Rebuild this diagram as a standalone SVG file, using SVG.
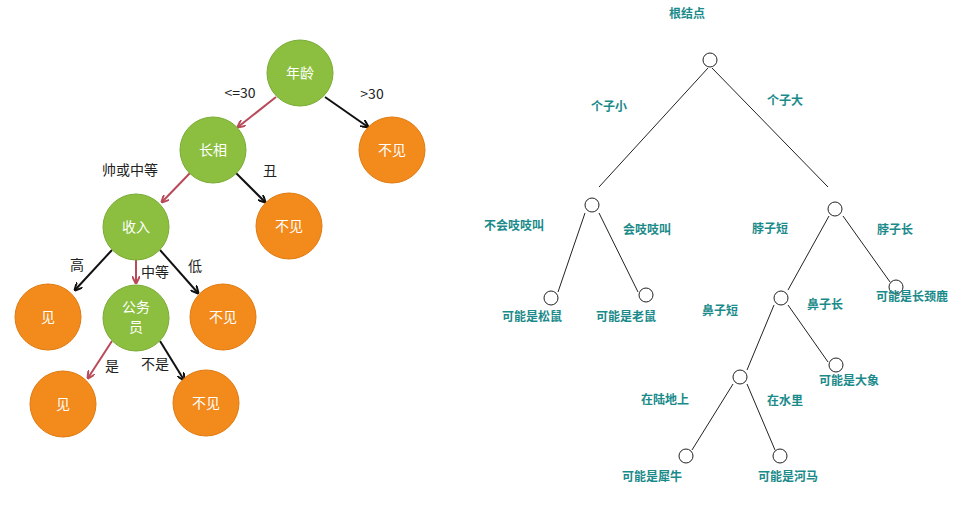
<svg xmlns="http://www.w3.org/2000/svg" width="966" height="508" viewBox="0 0 966 508">
<style>
.g{fill:#8cbf3f;stroke:#7aab35;stroke-width:1}
.o{fill:#f28a1c;stroke:#e07a10;stroke-width:1}
.nt{font-family:"Noto Sans CJK SC",sans-serif;font-size:14px;fill:#fff;text-anchor:middle}
.lb{font-family:"Noto Sans CJK SC",sans-serif;font-size:14px;fill:#222;text-anchor:middle}
.r{stroke:#b84a5a;stroke-width:2;marker-end:url(#ar)}
.k{stroke:#111;stroke-width:2;marker-end:url(#ak)}
.t{font-family:"Noto Sans CJK SC",sans-serif;font-size:12px;font-weight:bold;fill:#1a8a8a;text-anchor:middle}
.c{fill:#fff;stroke:#222;stroke-width:1}
.l{stroke:#222;stroke-width:1}
</style>
<defs>
<marker id="ar" markerWidth="8" markerHeight="8" refX="7" refY="4" orient="auto" markerUnits="userSpaceOnUse"><path d="M0,0 L8,4 L0,8" fill="none" stroke="#b84a5a" stroke-width="2"/></marker>
<marker id="ak" markerWidth="8" markerHeight="8" refX="7" refY="4" orient="auto" markerUnits="userSpaceOnUse"><path d="M0,0 L8,4 L0,8" fill="none" stroke="#111" stroke-width="2"/></marker>
</defs>
<rect width="966" height="508" fill="#fff"/>
<g id="connectors">
<line class="r" x1="276" y1="97" x2="238" y2="127"/>
<line class="k" x1="325" y1="97" x2="368" y2="127"/>
<line class="r" x1="190" y1="173" x2="162" y2="202"/>
<line class="k" x1="236" y1="173" x2="265" y2="202"/>
<line class="k" x1="112" y1="250" x2="75" y2="290"/>
<line class="r" x1="136" y1="259" x2="136" y2="283"/>
<line class="k" x1="160" y1="250" x2="198" y2="293"/>
<line class="r" x1="112" y1="341" x2="88" y2="378"/>
<line class="k" x1="160" y1="341" x2="184" y2="380"/>
<line class="l" x1="708" y1="68" x2="599" y2="187"/>
<line class="l" x1="712" y1="68" x2="828" y2="187"/>
<line class="l" x1="585" y1="213" x2="558" y2="292"/>
<line class="l" x1="599" y1="213" x2="638" y2="292"/>
<line class="l" x1="829" y1="216" x2="788" y2="290"/>
<line class="l" x1="843" y1="216" x2="890" y2="282"/>
<line class="l" x1="774" y1="305" x2="747" y2="370"/>
<line class="l" x1="788" y1="305" x2="828" y2="362"/>
<line class="l" x1="733" y1="384" x2="692" y2="450"/>
<line class="l" x1="747" y1="384" x2="775" y2="450"/>
</g>
<g class="lb">
<text x="240" y="98">&lt;=30</text><text x="372" y="99">&gt;30</text>
<text x="130" y="175">帅或中等</text><text x="270" y="176">丑</text>
<text x="77" y="270">高</text><text x="155" y="277">中等</text><text x="195" y="271">低</text>
<text x="112" y="371">是</text><text x="155" y="369">不是</text>
</g>
<g id="n1"><circle class="g" cx="300" cy="73" r="33"/><text class="nt" x="300" y="78">年龄</text></g>
<g id="n2"><circle class="g" cx="213" cy="150" r="33"/><text class="nt" x="213" y="155">长相</text></g>
<g id="n3"><circle class="o" cx="392" cy="150" r="33"/><text class="nt" x="392" y="155">不见</text></g>
<g id="n4"><circle class="g" cx="136" cy="227" r="33"/><text class="nt" x="136" y="232">收入</text></g>
<g id="n5"><circle class="o" cx="289" cy="226" r="33"/><text class="nt" x="289" y="231">不见</text></g>
<g id="n6"><circle class="o" cx="48" cy="317" r="33"/><text class="nt" x="48" y="322">见</text></g>
<g id="n7"><circle class="g" cx="136" cy="318" r="33"/><text class="nt" x="136" y="312">公务</text><text class="nt" x="136" y="332">员</text></g>
<g id="n8"><circle class="o" cx="223" cy="317" r="33"/><text class="nt" x="223" y="322">不见</text></g>
<g id="n9"><circle class="o" cx="63" cy="404" r="33"/><text class="nt" x="63" y="409">见</text></g>
<g id="n10"><circle class="o" cx="206" cy="403" r="33"/><text class="nt" x="206" y="408">不见</text></g>
<g id="r1"><circle class="c" cx="710" cy="60" r="7"/><text class="t" x="687" y="18">根结点</text></g>
<g id="r2"><circle class="c" cx="592" cy="205" r="7"/></g>
<g id="r3"><circle class="c" cx="835" cy="209" r="7"/></g>
<g id="r4"><circle class="c" cx="551" cy="298" r="7"/><text class="t" x="532" y="321">可能是松鼠</text></g>
<g id="r5"><circle class="c" cx="646" cy="295" r="7"/><text class="t" x="626" y="321">可能是老鼠</text></g>
<g id="r6"><circle class="c" cx="896" cy="287" r="7"/><text class="t" x="912" y="301">可能是长颈鹿</text></g>
<g id="r7"><circle class="c" cx="781" cy="298" r="7"/></g>
<g id="r8"><circle class="c" cx="836" cy="365" r="7"/><text class="t" x="849" y="385">可能是大象</text></g>
<g id="r9"><circle class="c" cx="740" cy="377" r="7"/></g>
<g id="r10"><circle class="c" cx="686" cy="456" r="7"/><text class="t" x="652" y="481">可能是犀牛</text></g>
<g id="r11"><circle class="c" cx="780" cy="456" r="7"/><text class="t" x="788" y="481">可能是河马</text></g>
<g class="t">
<text x="609" y="111">个子小</text><text x="785" y="105">个子大</text>
<text x="514" y="230">不会吱吱叫</text><text x="647" y="234">会吱吱叫</text>
<text x="770" y="233">脖子短</text><text x="895" y="234">脖子长</text>
<text x="720" y="315">鼻子短</text><text x="825" y="309">鼻子长</text>
<text x="665" y="404">在陆地上</text><text x="785" y="405">在水里</text>
</g>
</svg>
